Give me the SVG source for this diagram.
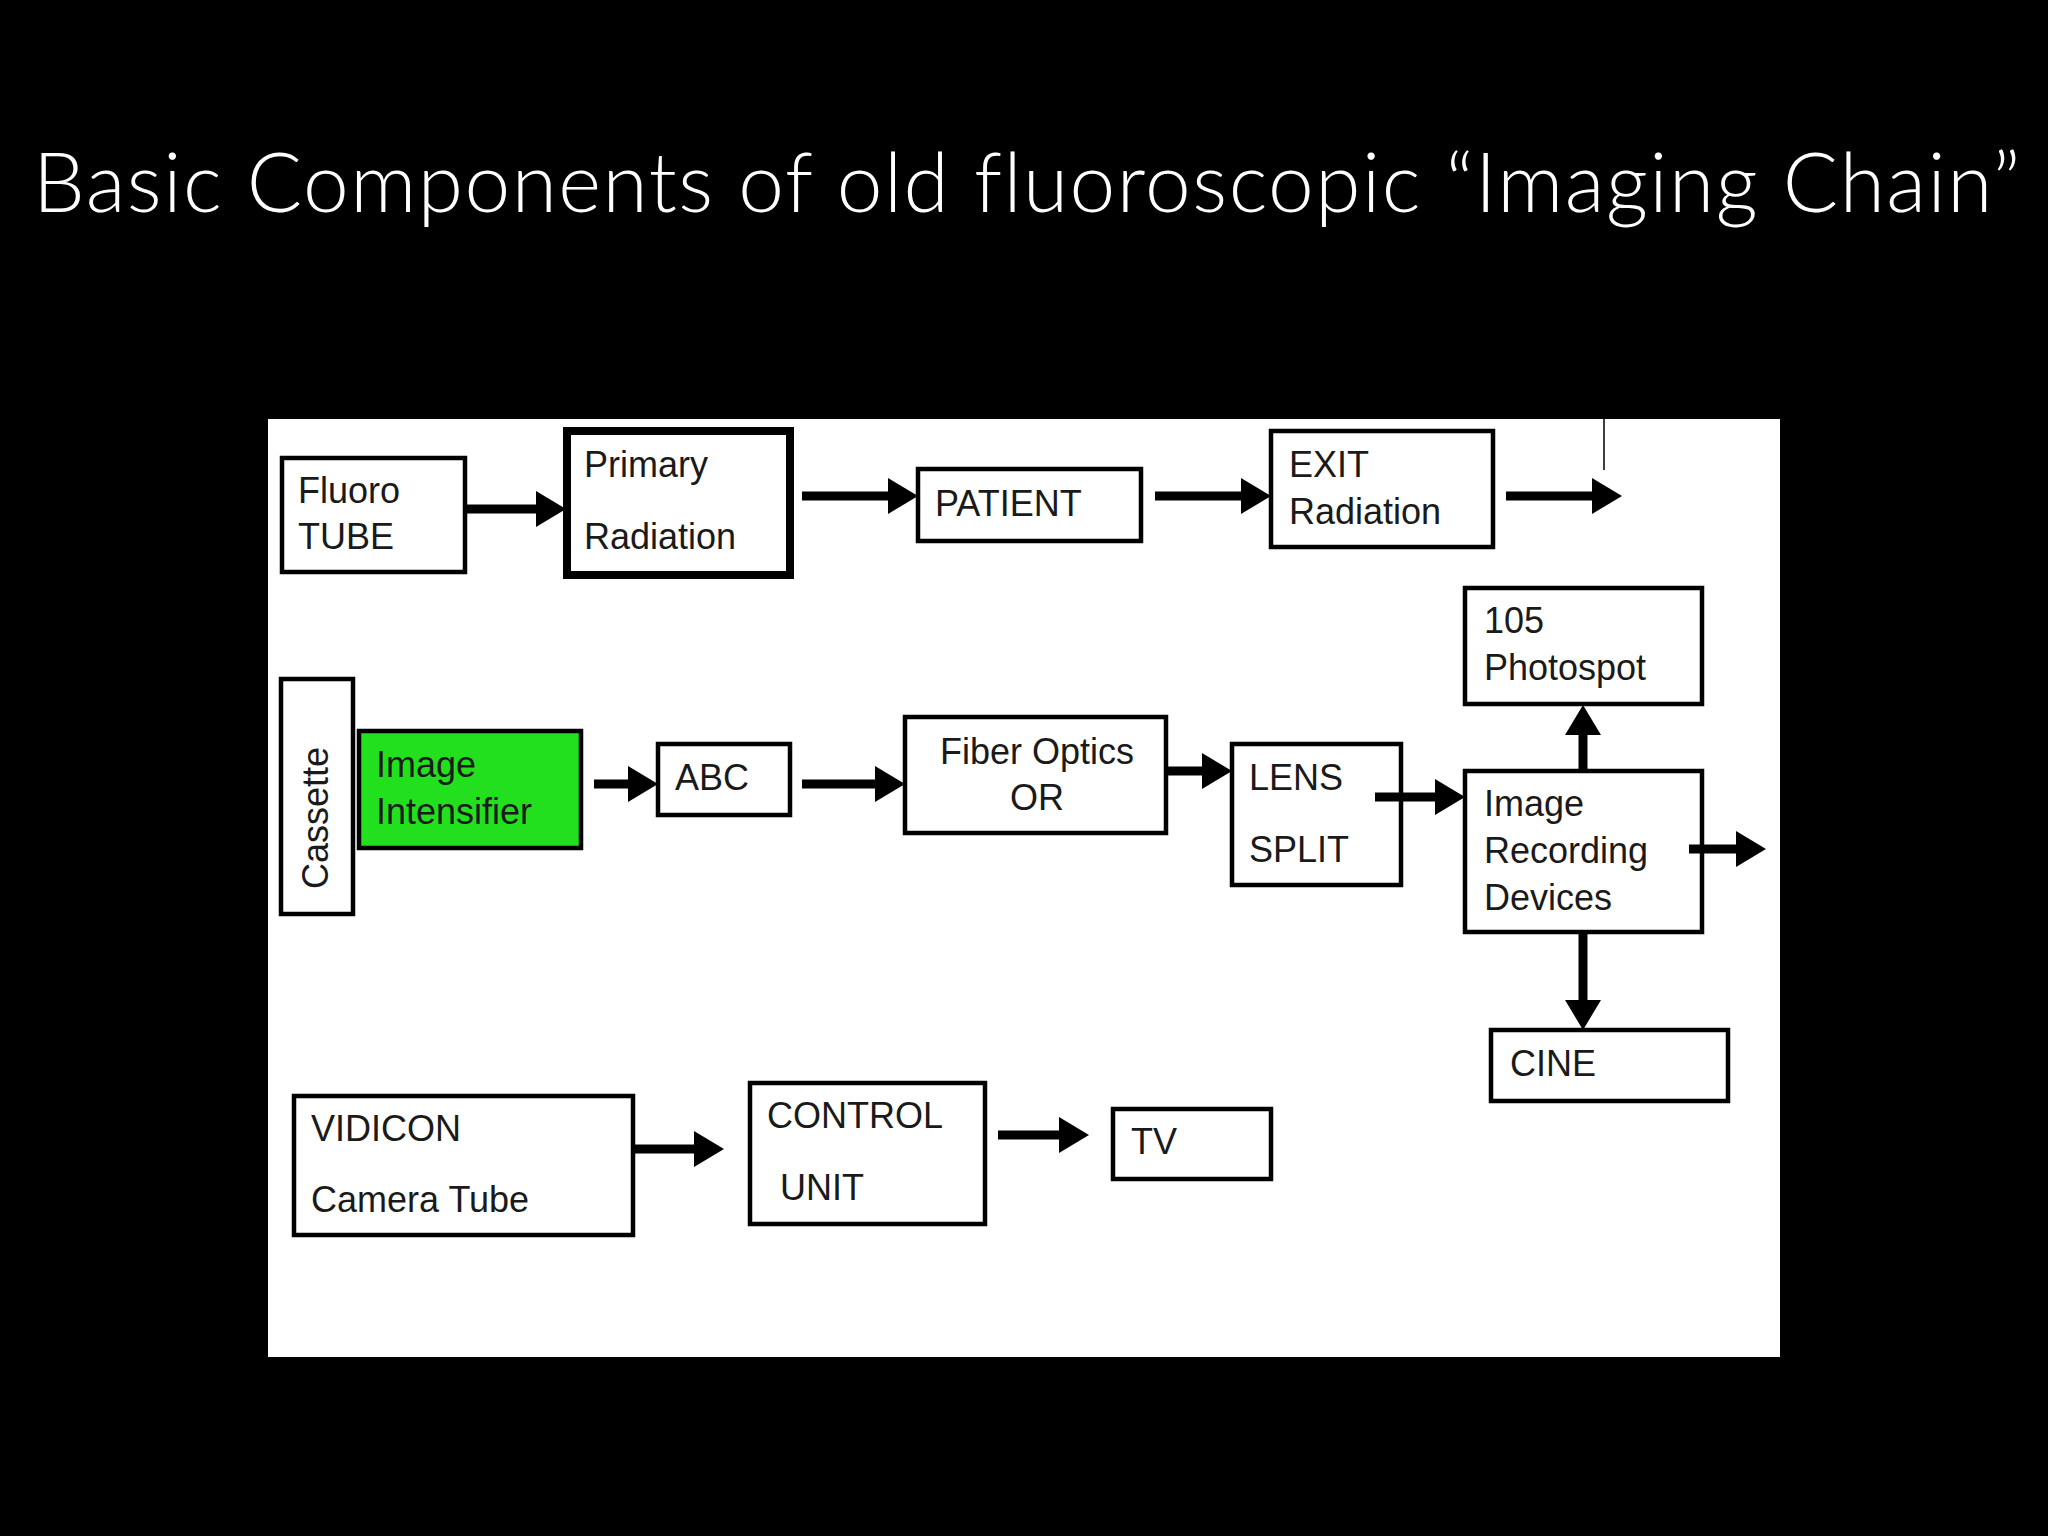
<svg xmlns="http://www.w3.org/2000/svg" width="2048" height="1536" viewBox="0 0 2048 1536">
<style>
.b{fill:#fff;stroke:#000;stroke-width:4.5}
.t{font-family:"Liberation Sans",Arial,sans-serif;font-size:36px;fill:#1a1a1a}
.c line{stroke:#000;stroke-width:9;marker-end:url(#ah)}
</style>
<defs><marker id="ah" viewBox="0 0 30 36" refX="0" refY="18" markerUnits="userSpaceOnUse" markerWidth="30" markerHeight="36" orient="auto"><path d="M0,0 L30,18 L0,36 z" fill="#000"/></marker></defs>
<rect width="2048" height="1536" fill="#000"/>
<text x="33" y="212" font-family="Lato,'Open Sans',sans-serif" font-weight="300" font-size="82" letter-spacing="1.5" fill="#fff">Basic Components of old fluoroscopic “Imaging Chain”</text>
<rect x="268" y="419" width="1512" height="938" fill="#fff"/>
<line x1="1604" y1="419" x2="1604" y2="470" stroke="#000" stroke-width="1.5"/>
<g id="fluoro"><rect class="b" x="282" y="458" width="183" height="114"/><text class="t" x="298" y="503">Fluoro</text><text class="t" x="298" y="549">TUBE</text></g>
<g id="primary"><rect class="b" x="567" y="431" width="223" height="144" style="stroke-width:8"/><text class="t" x="584" y="477">Primary</text><text class="t" x="584" y="549">Radiation</text></g>
<g id="patient"><rect class="b" x="918" y="469" width="223" height="72"/><text class="t" x="935" y="516">PATIENT</text></g>
<g id="exit"><rect class="b" x="1271" y="431" width="222" height="116"/><text class="t" x="1289" y="477">EXIT</text><text class="t" x="1289" y="524">Radiation</text></g>
<g id="cassette"><rect class="b" x="281" y="679" width="72" height="235"/><text class="t" transform="translate(328,818) rotate(-90)" text-anchor="middle">Cassette</text></g>
<g id="ii"><rect class="b" x="359" y="731" width="222" height="117" style="fill:#22e01e"/><text class="t" x="376" y="777">Image</text><text class="t" x="376" y="824">Intensifier</text></g>
<g id="abc"><rect class="b" x="658" y="744" width="132" height="71"/><text class="t" x="675" y="790">ABC</text></g>
<g id="fiber"><rect class="b" x="905" y="717" width="261" height="116"/><text class="t" x="1037" y="764" text-anchor="middle">Fiber Optics</text><text class="t" x="1037" y="810" text-anchor="middle">OR</text></g>
<g id="lens"><rect class="b" x="1232" y="744" width="169" height="141"/><text class="t" x="1249" y="790">LENS</text><text class="t" x="1249" y="862">SPLIT</text></g>
<g id="photospot"><rect class="b" x="1465" y="588" width="237" height="116"/><text class="t" x="1484" y="633">105</text><text class="t" x="1484" y="680">Photospot</text></g>
<g id="ird"><rect class="b" x="1465" y="771" width="237" height="161"/><text class="t" x="1484" y="816">Image</text><text class="t" x="1484" y="863">Recording</text><text class="t" x="1484" y="910">Devices</text></g>
<g id="cine"><rect class="b" x="1491" y="1030" width="237" height="71"/><text class="t" x="1510" y="1076">CINE</text></g>
<g id="vidicon"><rect class="b" x="294" y="1096" width="339" height="139"/><text class="t" x="311" y="1141">VIDICON</text><text class="t" x="311" y="1212">Camera Tube</text></g>
<g id="control"><rect class="b" x="750" y="1083" width="235" height="141"/><text class="t" x="767" y="1128">CONTROL</text><text class="t" x="780" y="1200">UNIT</text></g>
<g id="tv"><rect class="b" x="1113" y="1109" width="158" height="70"/><text class="t" x="1131" y="1154">TV</text></g>
<g class="c">
<line x1="465" y1="509" x2="536" y2="509"/>
<line x1="802" y1="496" x2="888" y2="496"/>
<line x1="1155" y1="496" x2="1241" y2="496"/>
<line x1="1506" y1="496" x2="1592" y2="496"/>
<line x1="594" y1="784" x2="628" y2="784"/>
<line x1="802" y1="784" x2="875" y2="784"/>
<line x1="1166" y1="771" x2="1202" y2="771"/>
<line x1="1375" y1="797" x2="1435" y2="797"/>
<line x1="1583" y1="771" x2="1583" y2="735"/>
<line x1="1583" y1="932" x2="1583" y2="1000"/>
<line x1="1689" y1="849" x2="1736" y2="849"/>
<line x1="633" y1="1149" x2="694" y2="1149"/>
<line x1="998" y1="1135" x2="1059" y2="1135"/>
</g>
</svg>
